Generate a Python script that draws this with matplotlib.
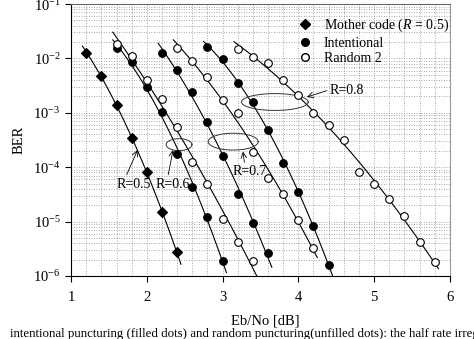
import matplotlib.pyplot as plt
from matplotlib.ticker import MultipleLocator, LogLocator, NullFormatter
import numpy as np

plt.rcParams["font.family"] = "Liberation Serif"
plt.rcParams["mathtext.fontset"] = "custom"
plt.rcParams["mathtext.rm"] = "Liberation Serif"
plt.rcParams["mathtext.it"] = "Liberation Serif:italic"
plt.rcParams["font.size"] = 10

# mother code, R = 0.5
ebno_mother = [1.2, 1.4, 1.6, 1.8, 2.0, 2.2, 2.4]
ber_mother = [1.27e-2, 4.8e-3, 1.39e-3, 3.4e-4, 8.1e-5, 1.48e-5, 2.7e-6]

# R = 0.6
ebno_int06 = [1.6, 1.8, 2.0, 2.2, 2.4, 2.6, 2.8, 3.0]
ber_int06 = [1.53e-2, 8.7e-3, 2.95e-3, 1.02e-3, 1.74e-4, 4.26e-5, 1.2e-5, 1.9e-6]
ebno_rnd06 = [1.6, 1.8, 2.0, 2.2, 2.4, 2.6, 2.8, 3.0, 3.2, 3.4]
ber_rnd06 = [1.82e-2, 1.1e-2, 4.0e-3, 1.78e-3, 5.4e-4, 1.26e-4, 4.9e-5, 1.1e-5, 4.3e-6, 1.9e-6]

# R = 0.7
ebno_int07 = [2.2, 2.4, 2.6, 2.8, 3.0, 3.2, 3.4, 3.6]
ber_int07 = [1.27e-2, 6.1e-3, 2.4e-3, 6.9e-4, 1.6e-4, 3.2e-5, 9.5e-6, 2.6e-6]
ebno_rnd07 = [2.4, 2.6, 2.8, 3.0, 3.2, 3.4, 3.6, 3.8, 4.0, 4.2]
ber_rnd07 = [1.58e-2, 8.9e-3, 4.6e-3, 1.74e-3, 9.8e-4, 1.94e-4, 6.4e-5, 3.2e-5, 1.05e-5, 3.2e-6]

# R = 0.8
ebno_int08 = [2.8, 3.0, 3.2, 3.4, 3.6, 3.8, 4.0, 4.2, 4.4]
ber_int08 = [1.6e-2, 9.7e-3, 3.6e-3, 1.55e-3, 4.8e-4, 1.18e-4, 3.5e-5, 8.4e-6, 1.58e-6]
ebno_rnd08 = [3.2, 3.4, 3.6, 3.8, 4.0, 4.2, 4.4, 4.6, 4.8, 5.0, 5.2, 5.4, 5.6, 5.8]
ber_rnd08 = [1.48e-2, 1.07e-2, 8.3e-3, 4.0e-3, 2.13e-3, 1.0e-3, 6.0e-4, 3.16e-4,
             8.1e-5, 4.9e-5, 2.57e-5, 1.26e-5, 4.3e-6, 1.8e-6]

legend_labels = ["Mother code ($R$ = 0.5)", "Intentional", "Random 2"]
caption = ("intentional puncturing (filled dots) and random puncturing(unfilled dots): "
           "the half rate irregular")


def trend(x, y, pad=0.05):
    # smooth quadratic trend in log(BER)
    c = np.polyfit(x, np.log10(y), 2)
    xs = np.linspace(x[0] - pad, x[-1] + pad, 100)
    return xs, 10 ** np.polyval(c, xs)


def ring(ax, cx, cy, w, h):
    t = np.linspace(0, 2 * np.pi, 200)
    ax.plot(cx + w / 2 * np.cos(t), cy * 10 ** (h / 2 * np.sin(t)), color="0.2", lw=0.7)


fig = plt.figure(figsize=(4.74, 3.39), dpi=100)
ax = fig.add_axes([0.150, 0.186, 0.799, 0.802])

series = [
    (ebno_mother, ber_mother, "D", "k"),
    (ebno_int06, ber_int06, "o", "k"),
    (ebno_rnd06, ber_rnd06, "o", "w"),
    (ebno_int07, ber_int07, "o", "k"),
    (ebno_rnd07, ber_rnd07, "o", "w"),
    (ebno_int08, ber_int08, "o", "k"),
    (ebno_rnd08, ber_rnd08, "o", "w"),
]
for x, y, m, fc in series:
    xs, ys = trend(x, y)
    ax.plot(xs, ys, color="k", lw=0.8, zorder=2)
    ax.plot(x, y, linestyle="none", marker=m, markersize=5.5 if m == "o" else 5,
            markerfacecolor=fc, markeredgecolor="k", markeredgewidth=0.8, zorder=3)

h1, = ax.plot([], [], "D", color="k", markersize=5)
h2, = ax.plot([], [], "o", color="k", markersize=5.5)
h3, = ax.plot([], [], "o", markerfacecolor="w", markeredgecolor="k", markersize=5.5)
ax.legend([h1, h2, h3], legend_labels, loc="upper right", frameon=False,
          bbox_to_anchor=(1.012, 0.975), borderaxespad=0, handletextpad=0.6,
          labelspacing=0.2, handlelength=1.5)

ring(ax, 2.425, 2.6e-4, 0.34, 0.22)
ring(ax, 3.14, 2.95e-4, 0.66, 0.31)
ring(ax, 3.69, 1.58e-3, 0.88, 0.31)

arrow = dict(arrowstyle="->", lw=0.6, color="k", shrinkA=0, shrinkB=0)
ax.annotate("R=0.5", xy=(1.877, 2.07e-4), xytext=(1.831, 4.9e-5), ha="center", va="center",
            arrowprops=dict(arrow, relpos=(0.25, 1.0)))
ax.annotate("R=0.6", xy=(2.346, 2.07e-4), xytext=(2.343, 4.9e-5), ha="center", va="center",
            arrowprops=dict(arrow, relpos=(0.35, 1.0)))
ax.annotate("R=0.7", xy=(3.269, 1.93e-4), xytext=(3.361, 8.3e-5), ha="center", va="center",
            arrowprops=dict(arrow, relpos=(0.35, 1.0)))
ax.annotate("R=0.8", xy=(4.113, 1.95e-3), xytext=(4.641, 2.52e-3), ha="center", va="center",
            arrowprops=dict(arrow, relpos=(0.0, 0.6)))

ax.set_yscale("log")
ax.set_xlim(1, 6)
ax.set_ylim(1e-6, 1e-1)
ax.xaxis.set_major_locator(MultipleLocator(1))
ax.xaxis.set_minor_locator(MultipleLocator(0.2))
ax.yaxis.set_minor_locator(LogLocator(base=10, subs=np.arange(2, 10)))
ax.yaxis.set_minor_formatter(NullFormatter())
ax.tick_params(which="major", direction="out", length=4, width=0.8, labelsize=10.5)
ax.tick_params(axis="x", which="major", pad=7)
ax.tick_params(which="minor", length=0)
ax.grid(True, which="both", linestyle=(0, (1, 2)), color="0.55", lw=0.6)
ax.set_axisbelow(True)
ax.spines["top"].set_color("0.4")
ax.spines["right"].set_color("0.6")

ax.set_xlabel("Eb/No [dB]", fontsize=10.5)
ax.set_ylabel("BER", fontsize=10.5)
ax.xaxis.set_label_coords(0.512, -0.14)
ax.yaxis.set_label_coords(-0.121, 0.5)

fig.text(10 / 474, 1.5 / 339, caption, fontsize=9.3, va="baseline", ha="left")

fig.savefig("out.png", dpi=100)
